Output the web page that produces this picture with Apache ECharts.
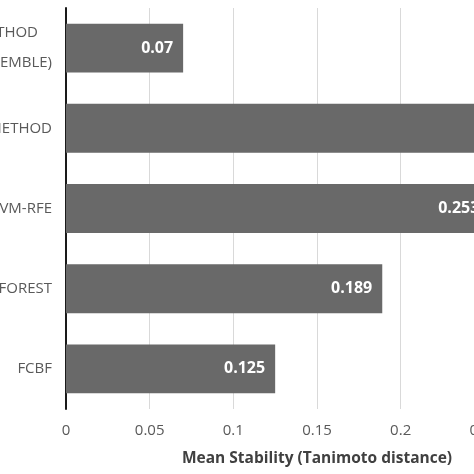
<!DOCTYPE html>
<html>
<head>
<meta charset="utf-8">
<script src="https://cdn.jsdelivr.net/npm/echarts@6/dist/echarts.min.js"></script>
<style>
  html, body { margin: 0; padding: 0; background: #fff; }
  #chart { width: 474px; height: 474px; }
</style>
</head>
<body>
<div id="chart"></div>
<script>
// methods, top to bottom
const methods = ['PROPOSED METHOD (ENSEMBLE)', 'PROPOSED METHOD', 'SVM-RFE', 'RANDOM FOREST', 'FCBF']
// mean stability (Tanimoto distance)
const stability = [0.07, 0.29, 0.253, 0.189, 0.125]

const chart = echarts.init(document.getElementById('chart'))

const option = {
  animation: false,
  grid: {
    left: 66,
    right: -94,
    top: 8,
    bottom: 65,
    containLabel: false,
    outerBoundsMode: 'none',
  },
  xAxis: {
    type: 'value',
    min: 0,
    max: 0.3,
    interval: 0.05,
    name: 'Mean Stability (Tanimoto distance)',
    nameLocation: 'middle',
    nameGap: 42,
    nameTextStyle: {
      fontFamily: 'Open Sans',
      fontSize: 15.5,
      fontWeight: 'bold',
      color: '#404040',
    },
    axisLine: { show: false },
    axisTick: { show: false },
    axisLabel: {
      fontFamily: 'Open Sans',
      fontSize: 15,
      color: '#595959',
      margin: 14,
    },
    splitLine: {
      lineStyle: { color: '#d9d9d9', width: 1 },
    },
  },
  yAxis: {
    type: 'category',
    inverse: true,
    data: methods,
    axisLine: {
      lineStyle: { color: '#1a1a1a', width: 2 },
    },
    axisTick: { show: false },
    axisLabel: {
      fontFamily: 'Open Sans',
      fontSize: 15,
      color: '#595959',
      margin: 14,
      formatter: (val) => {
        if (val === 'PROPOSED METHOD (ENSEMBLE)') {
          return '{a|PROPOSED METHOD}\n{b|(ENSEMBLE)}'
        }
        return val
      },
      rich: {
        a: {
          fontFamily: 'Open Sans',
          fontSize: 15,
          color: '#595959',
          lineHeight: 30,
          padding: [0, 14, 0, 0],
        },
        b: {
          fontFamily: 'Open Sans',
          fontSize: 15,
          color: '#595959',
          lineHeight: 30,
        },
      },
    },
  },
  series: [
    {
      type: 'bar',
      data: stability,
      barCategoryGap: '39%',
      itemStyle: { color: '#696969' },
      label: {
        show: true,
        position: 'insideRight',
        distance: 10,
        fontFamily: 'Open Sans',
        fontSize: 16,
        fontWeight: 'bold',
        color: '#ffffff',
      },
    },
  ],
}

chart.setOption(option)
</script>
</body>
</html>
